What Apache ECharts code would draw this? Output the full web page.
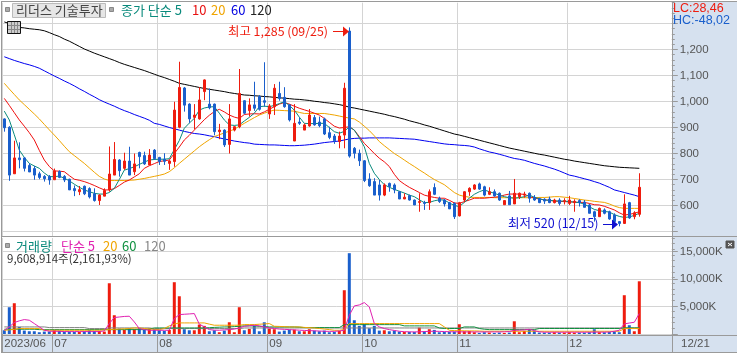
<!DOCTYPE html>
<html>
<head>
<meta charset="utf-8">
<script src="https://cdn.jsdelivr.net/npm/echarts@6/dist/echarts.min.js"></script>
<style>
  html, body { margin: 0; padding: 0; background: #fff; }
  #chart { width: 737px; height: 354px; }
</style>
</head>
<body>
<div id="chart"></div>
<script>
// month labels, index = trading day where the month starts
const monthStart = { 0: "2023/06", 10: "07", 31: "08", 53: "09", 72: "10", 91: "11", 113: "12" };
const dayCount = 134; // 128 days drawn, 6 empty on the right

const opens = [
  933, 901, 722, 783, 783, 754, 742, 722, 712, 712,
  699, 731, 712, 701, 665, 653, 674, 665, 645, 619,
  636, 660, 717, 775, 743, 771, 730, 804, 792, 756,
  813, 785, 778, 762, 769, 901, 1052, 990, 939, 933,
  1038, 990, 990, 884, 890, 835, 890, 903, 1003, 965,
  987, 1019, 1003, 952, 980, 1031, 1016, 987, 848, 921,
  890, 906, 938, 921, 933, 880, 867, 846, 871, 1271,
  820, 801, 772, 702, 692, 679, 640, 685, 679, 653,
  625, 638, 621, 612, 611, 611, 669, 628, 621, 611,
  608, 560, 621, 653, 663, 683, 672, 643, 653, 647,
  603, 637, 606, 634, 640, 647, 631, 626, 624, 625,
  611, 621, 615, 608, 611, 619, 613, 602, 576, 557,
  583, 576, 563, 538, 531, 611, 557, 566
];
const closes = [
  899, 717, 783, 776, 743, 729, 717, 708, 703, 698,
  733, 708, 698, 660, 657, 661, 645, 633, 619, 640,
  658, 721, 777, 734, 771, 717, 760, 788, 760, 794,
  780, 769, 770, 771, 967, 1054, 986, 933, 948, 1006,
  1083, 976, 884, 890, 833, 933, 903, 1031, 955, 987,
  974, 970, 997, 983, 1051, 1012, 980, 929, 916, 916,
  910, 948, 910, 907, 875, 862, 849, 867, 1051, 790,
  801, 772, 696, 676, 640, 640, 679, 673, 660, 625,
  632, 621, 602, 615, 608, 653, 643, 615, 606, 587,
  557, 611, 653, 666, 679, 663, 640, 653, 637, 621,
  619, 603, 647, 647, 644, 628, 621, 611, 617, 611,
  621, 608, 619, 621, 616, 611, 593, 570, 557, 589,
  570, 548, 538, 531, 606, 552, 572, 670
];
const lows = [
  884, 695, 722, 743, 731, 729, 699, 701, 692, 680,
  699, 705, 690, 660, 636, 640, 640, 627, 615, 602,
  636, 653, 717, 711, 737, 717, 717, 743, 756, 756,
  775, 756, 756, 737, 749, 897, 961, 918, 893, 930,
  1005, 970, 870, 855, 825, 800, 885, 897, 951, 942,
  964, 965, 980, 933, 948, 1003, 976, 923, 848, 910,
  890, 903, 907, 901, 871, 855, 837, 820, 820, 784,
  781, 752, 690, 672, 640, 619, 636, 653, 647, 625,
  625, 619, 602, 576, 583, 583, 640, 610, 596, 587,
  548, 558, 612, 637, 660, 660, 635, 640, 634, 618,
  603, 603, 606, 625, 630, 611, 618, 609, 606, 609,
  608, 600, 604, 602, 576, 596, 593, 570, 538, 557,
  566, 545, 538, 520, 529, 549, 547, 557
];
const highs = [
  935, 905, 849, 843, 786, 762, 752, 730, 717, 717,
  742, 735, 717, 703, 677, 675, 677, 670, 666, 643,
  666, 827, 844, 778, 803, 826, 800, 807, 807, 817,
  817, 787, 801, 774, 999, 1153, 1056, 993, 990, 1055,
  1085, 1050, 992, 914, 893, 990, 905, 1125, 1005, 1012,
  1076, 1025, 1151, 990, 1067, 1076, 1055, 990, 990, 938,
  915, 971, 948, 942, 938, 903, 875, 884, 1072, 1285,
  825, 815, 775, 724, 705, 698, 685, 688, 685, 656,
  647, 642, 623, 647, 618, 662, 685, 634, 625, 614,
  612, 614, 655, 670, 682, 688, 676, 670, 662, 650,
  621, 656, 702, 650, 653, 650, 640, 630, 628, 634,
  626, 628, 628, 637, 624, 624, 621, 606, 580, 592,
  589, 580, 570, 540, 643, 614, 578, 724
];

const ma5 = [
  963, 929, 872, 813, 785, 762, 752, 743, 725, 711,
  711, 713, 705, 695, 682, 670, 660, 653, 647, 644,
  644, 650, 666, 700, 736, 742, 749, 758, 767, 775,
  777, 778, 778, 780, 815, 850, 897, 917, 935, 967,
  975, 979, 980, 955, 929, 910, 908, 910, 925, 939,
  955, 980, 982, 980, 985, 992, 999, 985, 967, 940,
  916, 915, 915, 916, 916, 900, 884, 878, 885, 903,
  890, 860, 826, 762, 724, 700, 680, 670, 662, 655,
  648, 640, 634, 622, 611, 612, 618, 622, 621, 610,
  600, 596, 612, 628, 643, 653, 660, 653, 647, 640,
  634, 630, 628, 630, 634, 640, 632, 626, 621, 620,
  618, 617, 617, 615, 613, 611, 605, 595, 585, 580,
  577, 575, 565, 558, 554, 556, 562, 570
];
const ma10 = [
  1012, 985, 957, 929, 905, 880, 852, 812, 775, 750,
  733, 732, 730, 715, 701, 697, 692, 685, 677, 668,
  660, 660, 665, 677, 690, 698, 710, 722, 743, 753,
  761, 769, 772, 775, 800, 825, 852, 870, 890, 910,
  930, 947, 961, 970, 960, 948, 940, 935, 950, 952,
  953, 952, 960, 970, 980, 990, 996, 990, 982, 974,
  968, 962, 955, 948, 935, 920, 905, 898, 900, 903,
  890, 865, 839, 820, 800, 782, 768, 750, 720, 696,
  682, 670, 660, 650, 640, 635, 631, 628, 628, 620,
  610, 608, 615, 621, 628, 628, 628, 630, 632, 634,
  640, 644, 644, 644, 643, 635, 628, 625, 622, 620,
  617, 616, 615, 614, 613, 612, 612, 608, 603, 602,
  597, 590, 583, 572, 563, 566, 570, 576
];
const ma20 = [
  1070, 1048, 1027, 1006, 988, 970, 952, 933, 912, 891,
  871, 850, 828, 807, 792, 777, 762, 745, 728, 712,
  702, 696, 696, 696, 696, 697, 698, 701, 704, 708,
  712, 716, 721, 730, 745, 762, 778, 794, 810, 826,
  840, 853, 865, 872, 879, 886, 893, 905, 916, 927,
  938, 948, 955, 962, 967, 966, 965, 964, 963, 958,
  954, 954, 954, 954, 954, 951, 948, 944, 940, 936,
  933, 921, 905, 888, 868, 846, 830, 815, 800, 788,
  775, 762, 750, 737, 725, 712, 700, 690, 680, 665,
  650, 640, 635, 632, 631, 631, 631, 631, 630, 630,
  630, 630, 630, 630, 630, 630, 630, 631, 631, 632,
  634, 634, 632, 630, 627, 624, 621, 619, 616, 614,
  612, 606, 598, 592, 589, 589, 589, 589
];
const ma60 = [
  1172, 1165, 1158, 1152, 1146, 1141, 1135, 1128, 1118, 1108,
  1098, 1089, 1079, 1070, 1060, 1049, 1039, 1028, 1018, 1007,
  998, 990, 982, 973, 965, 958, 950, 943, 936, 928,
  916, 912, 906, 900, 895, 890, 885, 881, 877, 875,
  872, 868, 865, 860, 856, 852, 848, 845, 842, 840,
  836, 835, 834, 833, 833, 832, 831, 830, 830, 831,
  832, 834, 836, 839, 842, 844, 846, 848, 852, 856,
  858, 859, 859, 860, 860, 860, 860, 860, 859, 858,
  857, 856, 855, 852, 849, 846, 843, 840, 837, 835,
  834, 832, 831, 829, 825, 818, 812, 806, 802, 797,
  792, 786, 781, 778, 774, 768, 762, 757, 752, 746,
  740, 733, 725, 717, 713, 708, 703, 698, 692, 686,
  678, 670, 660, 655, 650, 645, 640, 634
];
const ma120 = [
  1306, 1300, 1292, 1285, 1283, 1280, 1278, 1276, 1272, 1265,
  1257, 1250, 1240, 1232, 1222, 1212, 1202, 1194, 1186, 1179,
  1172, 1165, 1158, 1150, 1143, 1137, 1131, 1125, 1119, 1112,
  1105, 1098, 1092, 1085, 1078, 1070, 1066, 1062, 1058, 1054,
  1050, 1047, 1044, 1041, 1038, 1034, 1031, 1028, 1025, 1024,
  1022, 1021, 1019, 1018, 1016, 1014, 1013, 1011, 1009, 1008,
  1006, 1004, 1001, 999, 996, 994, 991, 988, 984, 978,
  975, 971, 967, 963, 959, 955, 951, 946, 942, 937,
  932, 926, 921, 916, 910, 905, 899, 893, 887, 881,
  875, 871, 866, 861, 856, 851, 846, 841, 836, 831,
  826, 821, 817, 813, 809, 805, 801, 797, 794, 790,
  786, 782, 778, 775, 771, 768, 765, 762, 759, 756,
  753, 751, 749, 747, 746, 745, 744, 743
];

// volume in thousands of shares
const volumes = [
  680, 4880, 5610, 1290, 620, 500, 500, 320, 440, 440,
  700, 600, 440, 440, 380, 380, 500, 680, 560, 560,
  440, 9250, 3420, 990, 740, 1050, 870, 1110, 740, 990,
  870, 680, 560, 740, 9440, 6880, 870, 680, 680, 1720,
  1480, 500, 680, 320, 620, 2140, 320, 4880, 680, 930,
  1480, 500, 2140, 990, 870, 440, 620, 800, 800, 500,
  500, 870, 620, 500, 620, 320, 380, 560, 7980, 14730,
  2510, 1480, 1840, 1050, 1480, 620, 680, 500, 620, 440,
  380, 380, 380, 1170, 500, 870, 740, 320, 380, 380,
  440, 1780, 500, 560, 320, 200, 320, 260, 200, 260,
  200, 260, 2320, 320, 560, 870, 620, 260, 260, 260,
  320, 260, 260, 320, 260, 260, 260, 320, 870, 320,
  320, 380, 500, 320, 7070, 1600, 500, 9609
];
const volMa5 = [
  680, 1300, 2090, 2400, 2630, 2510, 1900, 1290, 680, 500,
  500, 480, 440, 440, 440, 440, 440, 440, 440, 440,
  560, 1900, 3000, 3100, 3200, 3240, 2200, 990, 800, 680,
  680, 680, 680, 680, 2810, 3540, 3600, 3660, 3725, 1800,
  1300, 800, 700, 680, 750, 800, 900, 1100, 1400, 1500,
  1600, 1480, 1300, 1110, 1000, 900, 850, 800, 750, 700,
  650, 620, 580, 540, 500, 480, 480, 550, 680, 3420,
  5120, 5300, 5730, 4940, 1900, 1300, 990, 800, 650, 500,
  420, 400, 380, 400, 450, 480, 500, 480, 440, 420,
  400, 400, 380, 380, 380, 380, 380, 380, 380, 380,
  400, 450, 680, 700, 750, 860, 620, 400, 330, 330,
  330, 330, 330, 330, 330, 330, 330, 330, 340, 340,
  340, 360, 500, 680, 1840, 2000, 2140, 3725
];
const volMa20 = [
  680, 750, 850, 990, 990, 990, 990, 990, 680, 680,
  680, 680, 680, 680, 680, 680, 680, 680, 680, 680,
  750, 800, 850, 900, 950, 1000, 1100, 1100, 1000, 900,
  850, 800, 1000, 1480, 1800, 2020, 2020, 2020, 2020, 2020,
  2020, 1800, 1600, 1600, 1600, 1600, 1600, 1600, 1720, 1720,
  1720, 1780, 1840, 1900, 1410, 1380, 1340, 1290, 1290, 1290,
  1200, 1150, 1100, 1000, 900, 800, 680, 680, 800, 1900,
  1900, 1900, 1900, 1900, 1900, 1900, 1900, 1900, 1900, 1900,
  1900, 1900, 1900, 1900, 1900, 1900, 1900, 1900, 1300, 680,
  620, 600, 580, 560, 560, 540, 500, 500, 500, 500,
  500, 500, 500, 500, 500, 500, 500, 500, 500, 500,
  500, 500, 500, 500, 500, 500, 500, 500, 500, 500,
  500, 500, 500, 500, 990, 990, 990, 990
];
const volMa60 = [
  870, 870, 870, 870, 870, 870, 870, 800, 800, 800,
  800, 800, 800, 800, 800, 800, 800, 800, 800, 800,
  800, 800, 800, 800, 800, 800, 800, 800, 800, 900,
  1110, 1110, 1110, 1110, 1110, 1110, 1110, 1110, 1110, 1110,
  1110, 1150, 1200, 1240, 1290, 1290, 1350, 1400, 1480, 1480,
  1480, 1400, 1350, 1290, 1290, 1290, 1290, 1290, 1290, 1250,
  1170, 1170, 1170, 1170, 1170, 1170, 1170, 1170, 1710, 1710,
  1710, 1710, 1710, 1710, 1710, 1710, 1710, 1710, 1710, 1710,
  1480, 1480, 1480, 1480, 1480, 1480, 1480, 1100, 1000, 1000,
  1000, 1000, 1290, 1290, 1290, 1000, 870, 800, 800, 800,
  800, 800, 800, 800, 800, 800, 800, 1000, 1000, 1000,
  1000, 1000, 1000, 1000, 1000, 1000, 1000, 1000, 1000, 1000,
  1000, 1000, 1000, 1000, 1110, 1110, 1110, 1110
];
const volMa120 = [
  1290, 1290, 1290, 1290, 1290, 1290, 1290, 1290, 1290, 1170,
  1170, 1170, 1170, 1170, 1170, 1170, 1170, 990, 990, 990,
  990, 1110, 1110, 1110, 1110, 1110, 1110, 1110, 1110, 1110,
  990, 990, 990, 990, 990, 990, 990, 990, 990, 990,
  990, 990, 990, 990, 990, 990, 990, 990, 1100, 1100,
  1100, 1100, 1100, 1100, 1100, 1100, 1100, 1100, 1100, 1100,
  1100, 1100, 1100, 1100, 1100, 1100, 1100, 1100, 1100, 1100,
  1100, 1100, 1100, 1100, 1100, 1100, 1100, 1100, 1100, 1100,
  1100, 1100, 1100, 1100, 1100, 1100, 1100, 1100, 1100, 1100,
  1100, 1100, 1100, 1100, 1100, 1100, 1100, 1100, 1100, 1100,
  1100, 1100, 1100, 1100, 1100, 1100, 1100, 1100, 1100, 1100,
  1100, 1100, 1100, 1100, 1100, 1100, 1100, 1100, 1100, 1100,
  1100, 1100, 1100, 1100, 1110, 1110, 1110, 1110
];

const priceTicks = [500, 600, 700, 800, 900, 1000, 1100, 1200, 1300];
const priceLabels = [600, 700, 800, 900, 1000, 1100, 1200];
const volumeTicks = [0, 5000, 10000, 15000];
const volumeLabels = [5000, 10000, 15000];

const RED = "#ee1c0e";
const BLUE = "#1a5fcc";
const TEAL = "#0a8a7c";
const ORANGE = "#f0a500";
const GRID = "#d4d4d4";
const FRAME = "#9a9a9a";
const STRIP = "#d6e1ef";
const FONT = '"Noto Sans CJK KR", sans-serif';
const NUM_FONT = '"Liberation Sans", sans-serif';

const categories = Array.from({ length: dayCount }, (_, i) => monthStart[i] || "");
const isMonthStart = (i) => monthStart[i] !== undefined;
const thousands = (v) => String(v).replace(/\B(?=(\d{3})+$)/g, ",");

function xAxisFor(gridIndex, withLabels) {
  return {
    type: "category",
    gridIndex: gridIndex,
    data: categories,
    boundaryGap: true,
    axisLine: { show: false },
    axisTick: withLabels
      ? { show: true, interval: (i) => isMonthStart(i), length: 18, lineStyle: { color: FRAME, width: 1 } }
      : { show: false },
    axisLabel: withLabels
      ? {
          show: true, interval: (i) => isMonthStart(i), align: "left", margin: 4,
          color: "#555", fontFamily: NUM_FONT, fontSize: 11.5, hideOverlap: false
        }
      : { show: false },
    splitLine: { show: true, interval: (i) => isMonthStart(i), lineStyle: { color: GRID, width: 1 } }
  };
}

function priceLine(name, data, color) {
  return {
    name: name, type: "line", xAxisIndex: 0, yAxisIndex: 0, data: data,
    symbol: "none", clip: false, z: 2, lineStyle: { color: color, width: 1 }
  };
}

function volumeLine(name, data, color) {
  return {
    name: name, type: "line", xAxisIndex: 1, yAxisIndex: 2, data: data,
    symbol: "none", z: 4, lineStyle: { color: color, width: 1 }
  };
}

function label(text, x, y, fill, font) {
  return {
    type: "text", z: 20,
    style: { text: text, x: x, y: y, fill: fill, font: font || ("13px " + FONT), textVerticalAlign: "middle" }
  };
}

function box(x, y, w, h, fill, stroke) {
  return { type: "rect", z: 20, shape: { x: x, y: y, width: w, height: h }, style: { fill: fill, stroke: stroke, lineWidth: 1 } };
}

function hline(x1, y1, x2, y2, color, width) {
  return { type: "line", z: 20, shape: { x1: x1, y1: y1, x2: x2, y2: y2 }, style: { stroke: color, lineWidth: width || 1 } };
}

function arrowHead(tipX, y, dir, color) {
  return {
    type: "polygon", z: 20,
    shape: { points: [[tipX, y], [tipX - dir * 6, y - 5], [tipX - dir * 6, y + 5]] },
    style: { fill: color }
  };
}

const chrome = [
  // blue strips behind the axes
  { type: "rect", z: -1, shape: { x: 673, y: 2, width: 64, height: 350 }, style: { fill: STRIP } },
  { type: "rect", z: -1, shape: { x: 2, y: 336, width: 735, height: 16 }, style: { fill: STRIP } },
  // frames
  hline(1, 1.5, 737, 1.5, FRAME), hline(1.5, 1, 1.5, 353, FRAME), hline(1, 352.5, 737, 352.5, FRAME),
  hline(672.5, 1, 672.5, 353, FRAME), hline(1, 236.5, 737, 236.5, FRAME), hline(1, 335.5, 737, 335.5, FRAME),
  // price legend
  box(5.5, 7.5, 4, 4, "#aaa", "#888"),
  box(12.5, 3.5, 93, 14, "#e6e6e6", "#bbb"),
  label("리더스 기술투자", 16, 10.5, "#444"),
  box(109.5, 7.5, 4, 4, "#aaa", "#888"),
  label("종가 단순 5", 121, 10.5, TEAL),
  label("10", 192, 10.5, "#e81010"),
  label("20", 211, 10.5, ORANGE),
  label("60", 231, 10.5, "#0000e0"),
  label("120", 250, 10.5, "#222"),
  // table icon
  box(7.5, 21.5, 13, 12, "#ccc", "#111"),
  hline(8, 25.5, 20, 25.5, "#888"), hline(8, 29.5, 20, 29.5, "#888"),
  hline(11.5, 22, 11.5, 33, "#888"), hline(14.5, 22, 14.5, 33, "#888"), hline(17.5, 22, 17.5, 33, "#888"),
  // high and low notes
  label("최고 1,285 (09/25)", 228, 31, RED, "12.4px " + FONT),
  hline(333, 31.5, 344, 31.5, RED), arrowHead(349, 31.5, 1, RED),
  label("최저 520 (12/15)", 508, 223, "#1010d0", "12.5px " + FONT),
  hline(603, 224.5, 613, 224.5, "#1010d0"), arrowHead(618, 224.5, 1, "#1010d0"),
  // top right readout
  label("LC:28,46", 673, 9, RED, "12.5px " + NUM_FONT),
  label("HC:-48,02", 673, 21, BLUE, "12.5px " + NUM_FONT),
  // volume legend
  box(5.5, 243.5, 4, 4, "#aaa", "#888"),
  label("거래량", 16, 246, TEAL),
  label("단순 5", 61, 246, "#e020b0"),
  label("20", 103, 246, ORANGE),
  label("60", 122, 246, "#109040"),
  label("120", 144, 246, "#888"),
  label("9,608,914주(2,161,93%)", 7, 259, "#333", "11.5px " + FONT),
  // small close icon
  box(726, 241, 8, 7, "#555", "#555"),
  hline(728, 243, 732, 246, "#fff"), hline(732, 243, 728, 246, "#fff"),
  // last date
  label("12/21", 681, 344, "#555", "11.5px " + NUM_FONT)
];

const chart = echarts.init(document.getElementById("chart"));
chart.setOption({
  animation: false,
  backgroundColor: "#fff",
  grid: [
    { left: 1.8, width: 670, top: 2.7, height: 234 },
    { left: 1.8, width: 670, top: 238, height: 96 }
  ],
  xAxis: [xAxisFor(0, false), xAxisFor(1, true)],
  yAxis: [
    {
      type: "value", gridIndex: 0, position: "right", min: 480, max: 1380, scale: true,
      axisLine: { show: false },
      axisTick: { show: true, customValues: priceTicks, length: 6, lineStyle: { color: FRAME } },
      axisLabel: {
        customValues: priceLabels, margin: 8, color: "#555", fontFamily: NUM_FONT, fontSize: 11.5,
        formatter: (v) => thousands(v)
      },
      splitLine: { show: true, lineStyle: { color: GRID, width: 1 } }
    },
    {
      // minor ticks of the price axis
      type: "value", gridIndex: 0, position: "right", min: 480, max: 1380, interval: 20,
      axisLine: { show: false }, axisLabel: { show: false }, splitLine: { show: false },
      axisTick: { show: true, length: 3, lineStyle: { color: FRAME } }
    },
    {
      type: "value", gridIndex: 1, position: "right", min: 0, max: 17500,
      axisLine: { show: false },
      axisTick: { show: true, customValues: volumeTicks, length: 6, lineStyle: { color: FRAME } },
      axisLabel: {
        customValues: volumeLabels, margin: 8, color: "#555", fontFamily: NUM_FONT, fontSize: 11.5,
        formatter: (v) => thousands(v) + "K"
      },
      splitLine: { show: true, lineStyle: { color: GRID, width: 1 } }
    },
    {
      // minor ticks of the volume axis
      type: "value", gridIndex: 1, position: "right", min: 0, max: 17000, interval: 1000,
      axisLine: { show: false }, axisLabel: { show: false }, splitLine: { show: false },
      axisTick: { show: true, length: 3, lineStyle: { color: FRAME } }
    }
  ],
  graphic: chrome,
  series: [
    priceLine("MA120", ma120, "#000"),
    priceLine("MA60", ma60, "#0000f0"),
    priceLine("MA20", ma20, ORANGE),
    priceLine("MA10", ma10, "#f01010"),
    priceLine("MA5", ma5, TEAL),
    {
      name: "price", type: "candlestick", xAxisIndex: 0, yAxisIndex: 0, z: 3,
      barWidth: 3,
      data: opens.map((o, i) => [o, closes[i], lows[i], highs[i]]),
      itemStyle: { color: RED, color0: BLUE, borderColor: RED, borderColor0: BLUE, borderWidth: 1 }
    },
    {
      name: "volume", type: "bar", xAxisIndex: 1, yAxisIndex: 2, z: 3, barWidth: 3,
      data: volumes.map((v, i) => ({ value: v, itemStyle: { color: closes[i] >= opens[i] ? RED : BLUE } }))
    },
    volumeLine("volMA120", volMa120, "#808080"),
    volumeLine("volMA60", volMa60, "#109040"),
    volumeLine("volMA20", volMa20, ORANGE),
    volumeLine("volMA5", volMa5, "#e020b0")
  ]
});
</script>
</body>
</html>
